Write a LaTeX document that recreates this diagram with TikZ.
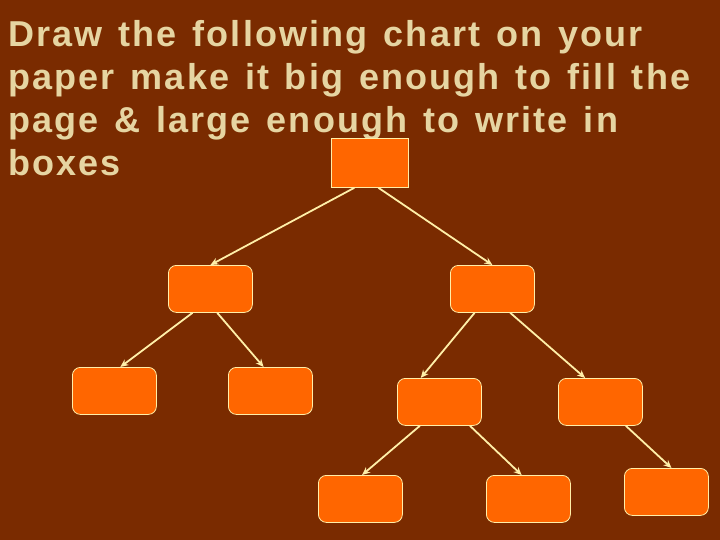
\documentclass[tikz,border=0pt]{standalone}
\usepackage{fontspec}
\setmainfont{Liberation Sans}
\newfontfamily\slidefont[LetterSpace=6,WordSpace=1.3]{Liberation Sans}
\usetikzlibrary{calc,arrows.meta}
\definecolor{slidebg}{HTML}{7A2B00}
\definecolor{slidetext}{HTML}{E6D5A2}
\definecolor{boxfill}{HTML}{FF6600}
\definecolor{boxline}{HTML}{FFEFA8}

\begin{document}
\begin{tikzpicture}[x=1pt, y=-1pt,
	box/.style={draw=boxline, fill=boxfill, line width=0.8pt, rounded corners=8pt,
		minimum width=84pt, minimum height=47pt, inner sep=0pt, anchor=north west},
	topbox/.style={box, rounded corners=0pt, minimum width=77pt, minimum height=49pt},
	link/.style={draw=boxline, line width=1.8pt, -{Stealth[length=8pt,width=7pt]}}]
			%%%%% START %%%%%
			
			\fill[slidebg] (0, 0) rectangle (720, 540);
			
			\node[anchor=north west, align=left, inner sep=0pt, text=slidetext,
				font=\fontsize{36}{43}\slidefont\bfseries] (title) at (8, 20)
				{Draw the following chart on your\\paper make it big enough to fill the\\page \& large enough to write in\\boxes};
			
			\node[topbox] (root) at (331, 138) {};
			
			\node[box] (left) at (168, 265) {};
			\node[box] (right) at (450, 265) {};
			
			\node[box] (boxa) at (72, 367) {};
			\node[box] (boxb) at (228, 367) {};
			\node[box] (boxc) at (397, 378) {};
			\node[box] (boxd) at (558, 378) {};
			
			\node[box] (boxe) at (318, 475) {};
			\node[box] (boxf) at (486, 475) {};
			\node[box] (boxg) at (624, 468) {};
			
			\draw[link] ($(root.south west)!.30!(root.south east)$) -- (left.north);
			\draw[link] ($(root.south west)!.61!(root.south east)$) -- (right.north);
			
			\draw[link] ($(left.south west)!.29!(left.south east)$) -- ($(boxa.north west)!.57!(boxa.north east)$);
			\draw[link] ($(left.south west)!.58!(left.south east)$) -- ($(boxb.north west)!.42!(boxb.north east)$);
			\draw[link] ($(right.south west)!.29!(right.south east)$) -- ($(boxc.north west)!.28!(boxc.north east)$);
			\draw[link] ($(right.south west)!.71!(right.south east)$) -- ($(boxd.north west)!.32!(boxd.north east)$);
			
			\draw[link] ($(boxc.south west)!.27!(boxc.south east)$) -- ($(boxe.north west)!.52!(boxe.north east)$);
			\draw[link] ($(boxc.south west)!.86!(boxc.south east)$) -- ($(boxf.north west)!.42!(boxf.north east)$);
			\draw[link] ($(boxd.south west)!.80!(boxd.south east)$) -- ($(boxg.north west)!.56!(boxg.north east)$);
			
			%%%%% END %%%%%
\end{tikzpicture}
\end{document}
